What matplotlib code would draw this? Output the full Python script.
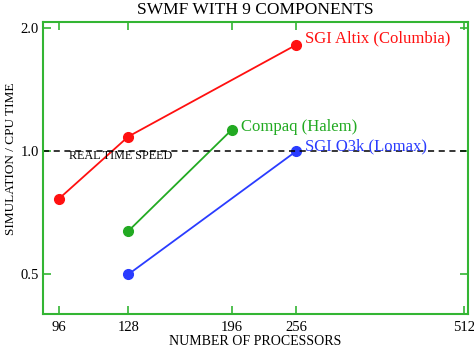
import matplotlib
matplotlib.use("Agg")
import matplotlib.pyplot as plt
from matplotlib.ticker import FixedLocator, FixedFormatter, NullLocator

plt.rcParams['font.family'] = ['Liberation Serif', 'DejaVu Serif']

# processors and simulation/cpu time ratio
altix_procs = [96, 128, 256]
altix_speed = [0.764, 1.086, 1.82]
compaq_procs = [128, 196]
compaq_speed = [0.638, 1.127]
o3k_procs = [128, 256]
o3k_speed = [0.50, 1.0]

xticks = [96, 128, 196, 256, 512]
yticks = [0.5, 1.0, 2.0]
ytick_labels = ['0.5', '1.0', '2.0']

frame = '#33b533'
red = '#ff1010'
green = '#22aa22'
blue = '#2a3cff'

fig = plt.figure(figsize=(4.74, 3.53), dpi=100)
ax = fig.add_axes([0.0907, 0.1105, 0.8963, 0.8272])
ax.set_xscale('log')
ax.set_yscale('log')

ax.plot(altix_procs, altix_speed, '-o', color=red, lw=1.3, ms=7)
ax.plot(compaq_procs, compaq_speed, '-o', color=green, lw=1.3, ms=7)
ax.plot(o3k_procs, o3k_speed, '-o', color=blue, lw=1.3, ms=7)
ax.axhline(1.0, color='black', ls=(0, (4, 3)), lw=1.1)

ax.annotate('SGI Altix (Columbia)', (altix_procs[-1], altix_speed[-1]),
            xytext=(6.5, 4.5), textcoords='offset points', color=red,
            fontsize=12, va='center', ha='left')
ax.annotate('Compaq (Halem)', (compaq_procs[-1], compaq_speed[-1]),
            xytext=(6.5, 2.5), textcoords='offset points', color=green,
            fontsize=12, va='center', ha='left')
ax.annotate('SGI O3k (Lomax)', (o3k_procs[-1], o3k_speed[-1]),
            xytext=(6.5, 3.5), textcoords='offset points', color=blue,
            fontsize=12, va='center', ha='left')
ax.annotate('REAL TIME SPEED', (100, 1.0), xytext=(0, -3.5),
            textcoords='offset points', fontsize=8.7, va='center', ha='left')

ax.set_xlim(90, 520)
ax.set_ylim(0.40, 2.07)
ax.xaxis.set_major_locator(FixedLocator(xticks))
ax.xaxis.set_major_formatter(FixedFormatter([str(v) for v in xticks]))
ax.xaxis.set_minor_locator(NullLocator())
ax.yaxis.set_major_locator(FixedLocator(yticks))
ax.yaxis.set_major_formatter(FixedFormatter(ytick_labels))
ax.yaxis.set_minor_locator(NullLocator())

ax.tick_params(direction='in', length=6, width=1.2, color=frame,
               top=True, right=True, labelsize=10.5)
ax.tick_params(axis='x', pad=5)
ax.tick_params(axis='y', pad=3)
for s in ax.spines.values():
    s.set_color(frame)
    s.set_linewidth(1.5)

ax.set_title('SWMF WITH 9 COMPONENTS', fontsize=12.5, pad=6)
ax.set_xlabel('NUMBER OF PROCESSORS', fontsize=10, labelpad=1)
ax.set_ylabel('SIMULATION / CPU TIME', fontsize=9.5)
ax.yaxis.set_label_coords(-0.062, 0.53)

fig.savefig('out.png', dpi=100)
